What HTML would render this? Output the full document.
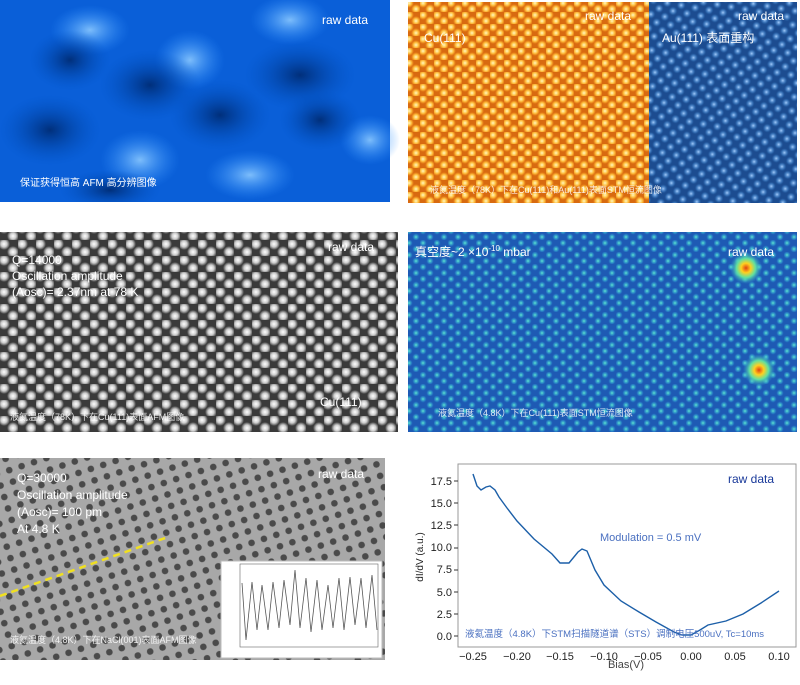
<!DOCTYPE html>
<html><head><meta charset="utf-8"><style>
html,body{margin:0;padding:0;background:#fff;width:800px;height:685px;overflow:hidden}
svg text{font-family:"Liberation Sans","Noto Sans CJK SC",sans-serif}
</style></head><body>
<svg width="800" height="685" viewBox="0 0 800 685" xmlns="http://www.w3.org/2000/svg">
<defs>
<radialGradient id="gw"><stop offset="0" stop-color="#fff"/><stop offset="0.5" stop-color="#ccc"/><stop offset="1" stop-color="#ccc" stop-opacity="0"/></radialGradient>
<radialGradient id="gy"><stop offset="0" stop-color="#fff8c0"/><stop offset="0.5" stop-color="#ffc040"/><stop offset="1" stop-color="#ffa020" stop-opacity="0"/></radialGradient>
<radialGradient id="gb"><stop offset="0" stop-color="#a8d0ff"/><stop offset="0.6" stop-color="#4a8ad0" stop-opacity="0.6"/><stop offset="1" stop-color="#2a6ab0" stop-opacity="0"/></radialGradient>
<radialGradient id="gc"><stop offset="0" stop-color="#60e8d0"/><stop offset="0.6" stop-color="#30a0d0" stop-opacity="0.6"/><stop offset="1" stop-color="#2060c0" stop-opacity="0"/></radialGradient>
<radialGradient id="hot"><stop offset="0" stop-color="#e04010"/><stop offset="0.3" stop-color="#ffd020"/><stop offset="0.6" stop-color="#60e0a0"/><stop offset="1" stop-color="#30a0d0" stop-opacity="0"/></radialGradient>
<radialGradient id="lb"><stop offset="0" stop-color="#8ac8ff"/><stop offset="1" stop-color="#3090ff" stop-opacity="0"/></radialGradient>
<radialGradient id="db"><stop offset="0" stop-color="#002a70"/><stop offset="1" stop-color="#0050c0" stop-opacity="0"/></radialGradient>
<pattern id="pg" width="18" height="16" patternUnits="userSpaceOnUse"><rect width="18" height="16" fill="#3a3a3a"/><circle cx="4" cy="4" r="6" fill="url(#gw)"/><circle cx="13" cy="12" r="6" fill="url(#gw)"/></pattern>
<pattern id="pg2" width="13" height="12" patternUnits="userSpaceOnUse" patternTransform="rotate(-18)"><rect width="13" height="12" fill="#a8a8a8"/><circle cx="6.5" cy="6" r="3.3" fill="#4a4a4a"/></pattern>
<pattern id="py" width="14" height="12" patternUnits="userSpaceOnUse"><rect width="14" height="12" fill="#d86a10"/><circle cx="3" cy="3" r="5" fill="url(#gy)"/><circle cx="10" cy="9" r="5" fill="url(#gy)"/></pattern>
<pattern id="pb" width="10" height="10" patternUnits="userSpaceOnUse" patternTransform="rotate(-35)"><rect width="10" height="10" fill="#1c4c90"/><circle cx="5" cy="5" r="4.5" fill="url(#gb)"/></pattern>
<pattern id="pc" width="14" height="12" patternUnits="userSpaceOnUse"><rect width="14" height="12" fill="#1e5ab4"/><circle cx="3" cy="3" r="4" fill="url(#gc)"/><circle cx="10" cy="9" r="4" fill="url(#gc)"/></pattern>
</defs>
<!-- top-left -->
<rect x="0" y="0" width="390" height="202" fill="#0a5fd8"/>
<g opacity="0.9">
<ellipse cx="90" cy="30" rx="40" ry="25" fill="url(#lb)"/><ellipse cx="190" cy="60" rx="35" ry="30" fill="url(#lb)"/>
<ellipse cx="290" cy="20" rx="40" ry="25" fill="url(#lb)"/><ellipse cx="250" cy="175" rx="45" ry="25" fill="url(#lb)"/>
<ellipse cx="370" cy="140" rx="30" ry="25" fill="url(#lb)"/><ellipse cx="140" cy="160" rx="40" ry="30" fill="url(#lb)"/>
<ellipse cx="50" cy="130" rx="50" ry="35" fill="url(#db)"/><ellipse cx="150" cy="85" rx="50" ry="35" fill="url(#db)"/>
<ellipse cx="300" cy="75" rx="55" ry="35" fill="url(#db)"/><ellipse cx="220" cy="115" rx="50" ry="35" fill="url(#db)"/>
<ellipse cx="70" cy="60" rx="40" ry="30" fill="url(#db)"/><ellipse cx="320" cy="120" rx="40" ry="30" fill="url(#db)"/>
<ellipse cx="110" cy="190" rx="50" ry="20" fill="url(#db)"/>
</g>
<rect x="0" y="202" width="400" height="28" fill="#fff"/>
<text x="322" y="24" font-size="12" fill="#fff">raw data</text>
<text x="20" y="186" font-size="10" fill="#fff">保证获得恒高 AFM 高分辨图像</text>
<!-- top-right -->
<rect x="408" y="2" width="241" height="201" fill="url(#py)"/>
<rect x="649" y="2" width="148" height="201" fill="url(#pb)"/>
<text x="585" y="20" font-size="12" fill="#fff">raw data</text>
<text x="424" y="42" font-size="12" fill="#fff">Cu(111)</text>
<text x="738" y="20" font-size="12" fill="#fff">raw data</text>
<text x="662" y="42" font-size="12" fill="#fff">Au(111) 表面重构</text>
<text x="430" y="193" font-size="9" fill="#fff" opacity="0.85">液氮温度（78K）下在Cu(111)和Au(111)表面STM恒流图像</text>
<!-- middle-left -->
<rect x="0" y="232" width="398" height="200" fill="url(#pg)"/>
<text x="328" y="251" font-size="12" fill="#fff">raw data</text>
<text x="12" y="264" font-size="12" fill="#fff">Q=14000</text>
<text x="12" y="280" font-size="12" fill="#fff">Oscillation amplitude</text>
<text x="12" y="296" font-size="12" fill="#fff">(Aosc)= 2.37nm at 78 K</text>
<text x="320" y="406" font-size="12" fill="#fff">Cu(111)</text>
<text x="10" y="420" font-size="9" fill="#fff" opacity="0.85">液氮温度（78K）下在Cu(111)表面AFM图像</text>
<!-- middle-right -->
<rect x="408" y="232" width="389" height="200" fill="url(#pc)"/>
<circle cx="746" cy="268" r="16" fill="url(#hot)"/>
<circle cx="759" cy="370" r="16" fill="url(#hot)"/>
<text x="415" y="256" font-size="12" fill="#fff">真空度~2 ×10<tspan font-size="8" dy="-5">-10</tspan><tspan dy="5"> mbar</tspan></text>
<text x="728" y="256" font-size="12" fill="#fff">raw data</text>
<text x="438" y="416" font-size="9" fill="#fff" opacity="0.85">液氦温度（4.8K）下在Cu(111)表面STM恒流图像</text>
<!-- bottom-left -->
<rect x="0" y="458" width="385" height="202" fill="url(#pg2)"/>
<line x1="0" y1="596" x2="168" y2="537" stroke="#f0e020" stroke-width="2.5" stroke-dasharray="7,5"/>
<text x="318" y="478" font-size="12" fill="#fff">raw data</text>
<text x="17" y="482" font-size="12" fill="#fff">Q=30000</text>
<text x="17" y="499" font-size="12" fill="#fff">Oscillation amplitude</text>
<text x="17" y="516" font-size="12" fill="#fff">(Aosc)= 100 pm</text>
<text x="17" y="533" font-size="12" fill="#fff">At 4.8 K</text>
<text x="10" y="643" font-size="9" fill="#fff" opacity="0.85">液氦温度（4.8K）下在NaCl(001)表面AFM图像</text>
<rect x="221" y="561" width="161" height="97" fill="#fff" stroke="#bbb"/>
<rect x="240" y="564" width="138" height="83" fill="none" stroke="#666" stroke-width="0.6"/>
<polyline fill="none" stroke="#555" stroke-width="0.8" points="242,583 246,640 252,582 257,630 262,585 268,630 273,582 279,628 284,580 290,625 295,570 300,628 306,578 311,632 317,580 322,630 328,585 333,628 339,578 344,630 350,577 355,625 361,578 366,628 372,575 377,630"/>
<!-- bottom-right chart -->
<rect x="458" y="464" width="338" height="183" fill="#fff" stroke="#999" stroke-width="1"/>
<g font-size="11" fill="#222" text-anchor="end">
<text x="452" y="640">0.0</text><text x="452" y="618">2.5</text><text x="452" y="596">5.0</text><text x="452" y="573">7.5</text><text x="452" y="551">10.0</text><text x="452" y="529">12.5</text><text x="452" y="507">15.0</text><text x="452" y="485">17.5</text>
</g>
<g stroke="#333"><line x1="454" y1="636" x2="458" y2="636"/><line x1="454" y1="614" x2="458" y2="614"/><line x1="454" y1="592" x2="458" y2="592"/><line x1="454" y1="570" x2="458" y2="570"/><line x1="454" y1="548" x2="458" y2="548"/><line x1="454" y1="525" x2="458" y2="525"/><line x1="454" y1="503" x2="458" y2="503"/><line x1="454" y1="481" x2="458" y2="481"/></g>
<g font-size="11" fill="#222" text-anchor="middle">
<text x="473" y="660">−0.25</text><text x="517" y="660">−0.20</text><text x="560" y="660">−0.15</text><text x="604" y="660">−0.10</text><text x="648" y="660">−0.05</text><text x="691" y="660">0.00</text><text x="735" y="660">0.05</text><text x="779" y="660">0.10</text>
</g>
<text x="626" y="668" font-size="11" fill="#444" text-anchor="middle">Bias(V)</text>
<text transform="translate(423,557) rotate(-90)" font-size="10" fill="#222" text-anchor="middle">dI/dV (a.u.)</text>
<polyline fill="none" stroke="#1c5fa8" stroke-width="1.4" points="473,474 477,486 481,490 486,487 490,486 495,490 499,497 507,508 517,521 534,539 552,554 560,563 569,563 578,552 582,549 587,551 595,570 604,585 621,601 639,612 656,622 674,632 682,635 691,635 700,630 708,625 726,621 743,614 761,603 779,591"/>
<text x="728" y="483" font-size="12" fill="#1a3a9a">raw data</text>
<text x="600" y="541" font-size="11" fill="#4a70c0">Modulation = 0.5 mV</text>
<text x="465" y="637" font-size="9.5" fill="#4a70c0">液氦温度（4.8K）下STM扫描隧道谱（STS）调制电压500uV, Tc=10ms</text>
</svg>
</body></html>
